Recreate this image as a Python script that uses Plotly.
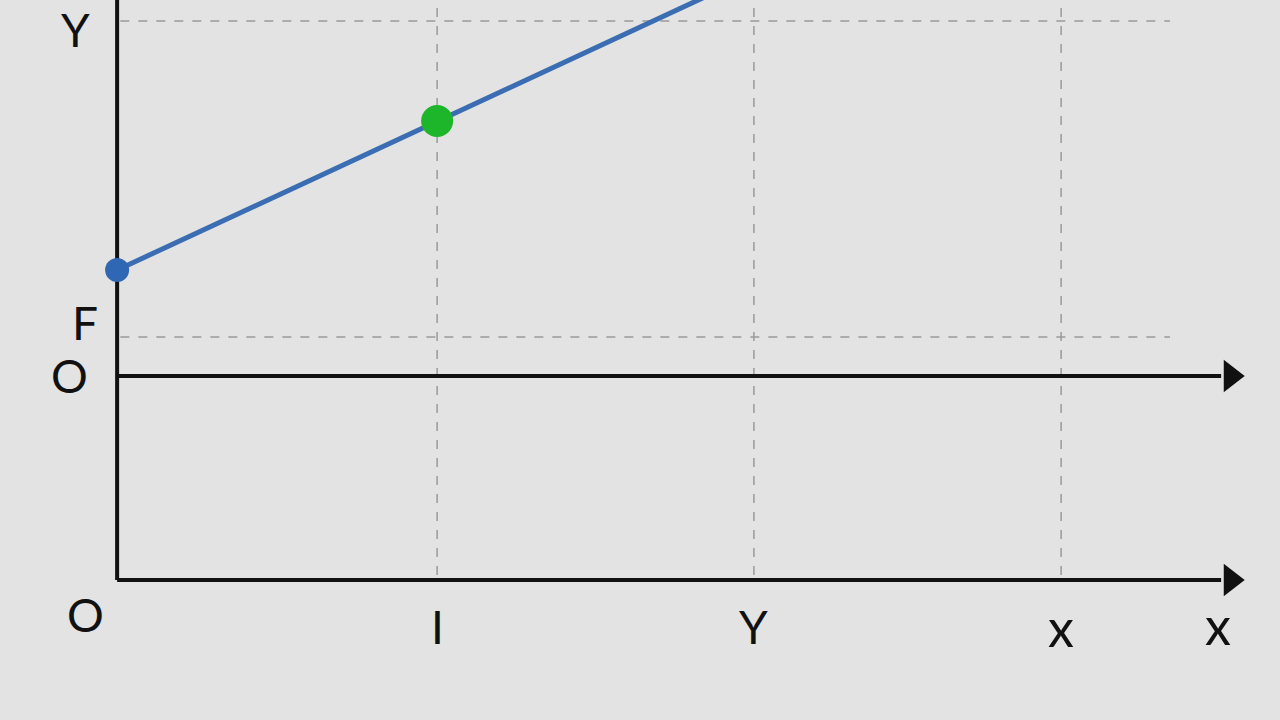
import plotly.graph_objects as go

# axis labels
bottom_labels = ["O", "I", "Y", "x", "x"]
bottom_label_x = [-0.1, 1.0, 1.99, 2.95, 3.44]
bottom_label_y = [-0.34, -0.46, -0.46, -0.47, -0.45]
side_labels = ["Y", "F", "O"]
side_label_y = [5.51, 2.58, 2.05]
side_label_x = [-0.13, -0.1, -0.15]

# reference levels
grid_x = [1.0, 1.99, 2.95]
grid_y = [2.43, 5.59]
mid_axis_y = 2.04
axis_end = 3.48
grid_end = 3.29

# the sloped line and its two marked points
line_x = [0, 1.0, 1.85]
line_y = [3.10, 4.59, 5.85]
start_pt = (0, 3.10)
mid_pt = (1.0, 4.59)

bg = "#e3e3e3"
dash_col = "#9a9a9a"
axis_col = "#111111"

fig = go.Figure()

# dashed guides
for gx in grid_x:
    fig.add_trace(go.Scatter(x=[gx, gx], y=[0.05, 5.9], mode="lines",
                             line=dict(color=dash_col, width=1.5, dash="dash")))
for gy in grid_y:
    fig.add_trace(go.Scatter(x=[0.01, grid_end], y=[gy, gy], mode="lines",
                             line=dict(color=dash_col, width=1.5, dash="dash")))

# axes
fig.add_trace(go.Scatter(x=[0, 0], y=[0, 5.9], mode="lines",
                         line=dict(color=axis_col, width=4)))
for ay in [0, mid_axis_y]:
    fig.add_trace(go.Scatter(x=[0, axis_end - 0.03], y=[ay, ay], mode="lines",
                             line=dict(color=axis_col, width=4)))
    fig.add_trace(go.Scatter(x=[axis_end], y=[ay], mode="markers",
                             marker=dict(symbol="triangle-right", size=28, color=axis_col)))

# sloped line
fig.add_trace(go.Scatter(x=line_x, y=line_y, mode="lines",
                         line=dict(color="#3b6db3", width=5)))
fig.add_trace(go.Scatter(x=[start_pt[0]], y=[start_pt[1]], mode="markers",
                         marker=dict(size=24, color="#2f67b4")))
fig.add_trace(go.Scatter(x=[mid_pt[0]], y=[mid_pt[1]], mode="markers",
                         marker=dict(size=32, color="#1db52a")))

label_font = dict(family="Lato, DejaVu Sans, sans-serif", size=46, color="#111111")
for t, lx, ly in zip(bottom_labels, bottom_label_x, bottom_label_y):
    size = 52 if t == "x" else 46
    fig.add_annotation(x=lx, y=ly, text=t, showarrow=False,
                       font=dict(label_font, size=size), yanchor="middle")
for t, lx, ly in zip(side_labels, side_label_x, side_label_y):
    fig.add_annotation(x=lx, y=ly, text=t, showarrow=False, font=label_font,
                       yanchor="middle", xanchor="center")

fig.update_layout(
    width=1280, height=720, autosize=False,
    margin=dict(l=0, r=0, t=0, b=0),
    paper_bgcolor=bg, plot_bgcolor=bg,
    showlegend=False,
    xaxis=dict(range=[-0.366, 3.634], visible=False, fixedrange=True),
    yaxis=dict(range=[-1.40, 5.80], visible=False, fixedrange=True),
)

fig.write_html("out.html", config={"displayModeBar": False},
               post_script="document.body.style.margin='0';")
